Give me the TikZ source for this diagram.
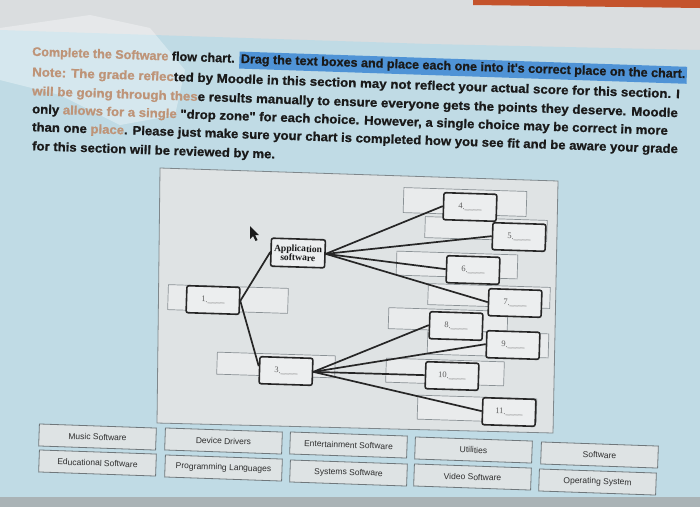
\documentclass[tikz,border=0pt]{standalone}
\usepackage{fontspec}
\setmainfont{Liberation Sans}
\newfontfamily\boxserif{Liberation Serif}
\newfontfamily\heavysans{Liberation Sans Bold}[FakeBold=0.9]
\usepackage{graphicx}

\definecolor{pageblue}{HTML}{C0DBE5}
\definecolor{topgray}{HTML}{DADDDF}
\definecolor{framefill}{HTML}{DFE3E4}
\definecolor{framebd}{HTML}{7F878B}
\definecolor{ink}{HTML}{1A1A1A}
\definecolor{tanink}{HTML}{BE9478}
\definecolor{hl}{HTML}{4F93D6}
\definecolor{slotbd}{HTML}{8A9195}
\definecolor{nodebd}{HTML}{262626}
\definecolor{numink}{HTML}{5E5E5E}
\definecolor{orangebar}{HTML}{C4532C}
\definecolor{bottomgray}{HTML}{AAB3B6}
\definecolor{chipfill}{HTML}{DEE3E4}
\definecolor{chipbd}{HTML}{6F777B}
\definecolor{chipink}{HTML}{2E2E2E}

\begin{document}
\begin{tikzpicture}[x=1pt,y=-1pt,
  txt/.style={anchor=west, rotate=-1.95, inner sep=0pt, text=ink,
    font=\heavysans\fontsize{12.5}{14}\selectfont},
  slotbox/.style={draw=slotbd, line width=0.7pt, fill=framefill!70!white,
    rotate=-1.8, inner sep=0pt},
  numbox/.style={draw=nodebd, line width=1.6pt, rounded corners=2pt,
    fill=framefill!60!white, rotate=-1.8, minimum width=53pt,
    minimum height=27pt, inner sep=0pt,
    font=\boxserif\fontsize{8.5}{9}\selectfont, text=numink},
  appbox/.style={numbox, text=ink, align=center, minimum width=54pt,
    minimum height=28pt, font=\boxserif\bfseries\fontsize{9.6}{9}\selectfont},
  link/.style={draw=nodebd, line width=1.7pt},
  chip/.style={draw=chipbd, line width=0.8pt, fill=chipfill, rotate=-2,
    minimum width=117pt, minimum height=22pt, inner sep=0pt,
    font=\fontsize{8.5}{9}\selectfont, text=chipink},
]
\useasboundingbox (0,0) rectangle (700,507);

% background of the photographed screen
\fill[topgray] (0,0) rectangle (700,507);
\fill[orangebar] (473,0) -- (700,0) -- (700,8) -- (473,5) -- cycle;
\fill[pageblue] (0,30) -- (430,44) -- (700,50) -- (700,497) -- (0,497) -- cycle;
\fill[bottomgray] (0,497) rectangle (700,507);
\fill[white, opacity=0.35] (0,28) -- (90,15) -- (150,28) -- (185,70)
  -- (175,115) -- (120,125) -- (60,95) -- (0,80) -- cycle;

% instructions
\node[txt] (t1) at (32,53) {\resizebox{655pt}{\height}{\textcolor{tanink}{Complete the Software} flow chart. {\setlength{\fboxsep}{1.5pt}\colorbox{hl}{\strut Drag the text boxes and place each one into it's correct place on the chart.}}}};
\node[txt] (t2) at (32,73) {\resizebox{648pt}{\height}{\textcolor{tanink}{Note: The grade reflec}ted by Moodle in this section may not reflect your actual score for this section. I}};
\node[txt] (t3) at (32,92) {\resizebox{646pt}{\height}{\textcolor{tanink}{will be going through thes}e results manually to ensure everyone gets the points they deserve. Moodle}};
\node[txt] (t4) at (32,110) {\resizebox{636pt}{\height}{only \textcolor{tanink}{allows for a single} "drop zone" for each choice. However, a single choice may be correct in more}};
\node[txt] (t5) at (32,128) {\resizebox{646pt}{\height}{than one \textcolor{tanink}{place}. Please just make sure your chart is completed how you see fit and be aware your grade}};
\node[txt] (t6) at (32,147) {\resizebox{243pt}{\height}{for this section will be reviewed by me.}};

% chart frame
\draw[framebd, fill=framefill, line width=0.8pt] (160,168) -- (558,181) -- (553,433) -- (157,423) -- cycle;

% drop-zone placeholders
\node[slotbox, minimum width=120pt, minimum height=25pt] (s1) at (228,299) {};
\node[slotbox, minimum width=118pt, minimum height=22pt] (s3) at (276,365) {};
\node[slotbox, minimum width=123pt, minimum height=25pt] (s4) at (465,202) {};
\node[slotbox, minimum width=122pt, minimum height=21pt] (s5) at (486,229) {};
\node[slotbox, minimum width=121pt, minimum height=24pt] (s6) at (457,265) {};
\node[slotbox, minimum width=122pt, minimum height=21pt] (s7) at (489,296) {};
\node[slotbox, minimum width=119pt, minimum height=21pt] (s8) at (448,320) {};
\node[slotbox, minimum width=121pt, minimum height=24pt] (s9) at (488,344) {};
\node[slotbox, minimum width=118pt, minimum height=24pt] (s10) at (445,372) {};
\node[slotbox, minimum width=119pt, minimum height=24pt] (s11) at (477,409) {};

% chart boxes
\node[appbox] (app) at (298,253) {Application\\software};
\node[numbox] (n1) at (213,300) {1.\_\_\_\_};
\node[numbox] (n3) at (286,371) {3.\_\_\_\_};
\node[numbox] (n4) at (470,207) {4.\_\_\_\_};
\node[numbox] (n5) at (519,237) {5.\_\_\_\_};
\node[numbox] (n6) at (473,270) {6.\_\_\_\_};
\node[numbox] (n7) at (515,303) {7.\_\_\_\_};
\node[numbox] (n8) at (456,326) {8.\_\_\_\_};
\node[numbox] (n9) at (513,345) {9.\_\_\_\_};
\node[numbox] (n10) at (452,376) {10.\_\_\_\_};
\node[numbox] (n11) at (509,412) {11.\_\_\_\_};

% connectors
\draw[link] (n1.east) -- (app.west);
\draw[link] (n1.east) -- ([yshift=4pt]n3.west);
\foreach \t in {n4,n5,n6,n7} \draw[link] (app.east) -- (\t.west);
\foreach \t in {n8,n9,n10,n11} \draw[link] (n3.east) -- (\t.west);

% mouse pointer
\fill[ink] (250,226) -- (250,239) -- (253,236) -- (255.5,241) -- (257.5,240)
  -- (255,235) -- (259,235) -- cycle;

% answer choices
\node[chip] (c1) at (97.5,437) {Music Software};
\node[chip] (c2) at (223.5,441) {Device Drivers};
\node[chip] (c3) at (348.5,445) {Entertainment Software};
\node[chip] (c4) at (473.5,450) {Utilities};
\node[chip] (c5) at (599.5,455) {Software};
\node[chip] (c6) at (97.5,463) {Educational Software};
\node[chip] (c7) at (223.5,468) {Programming Languages};
\node[chip] (c8) at (348.5,473) {Systems Software};
\node[chip] (c9) at (472.5,477) {Video Software};
\node[chip] (c10) at (597.5,482) {Operating System};
\end{tikzpicture}
\end{document}
